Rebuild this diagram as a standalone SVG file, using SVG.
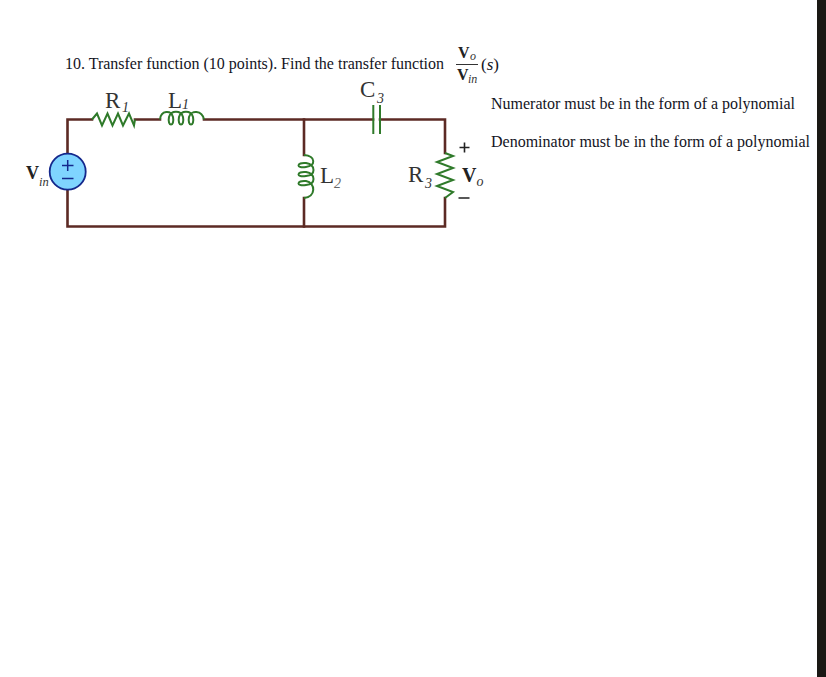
<svg xmlns="http://www.w3.org/2000/svg" width="826" height="677" viewBox="0 0 826 677">
<style>
text{font-family:"Liberation Serif","Times New Roman",serif;fill:#14141e}
.t{font-size:16px}
.l{font-size:23px;fill:#333}
.i{font-style:italic;font-size:14px;fill:#333}
.b{font-weight:bold;font-size:20px;fill:#222}
.f{font-weight:bold;font-size:16px;fill:#222}
.w{fill:none;stroke:#5c2a24;stroke-width:2.6;stroke-linecap:square}
.g{fill:none;stroke:#2f7a2a;stroke-width:2}
</style>
<rect width="826" height="677" fill="#fff"/>
<rect x="817" y="0" width="9" height="677" fill="#1a1814"/>
<g id="connectors">
<path class="w" d="M92 119.5H67.5V154M67.5 190V226.5H445V198M445 153V119.5H380M373 119.5H204M160 119.5H135"/>
<path class="w" d="M304 119.5V155M304 198V226.5"/>
</g>
<g id="R1"><path class="g" d="M92 119.5L97 113.500L102 125.500L107.500 113.500L112.500 125.500L118 113.500L123 125.500L129 113.500L134 125.500L135 119.5"/><text class="l" x="105" y="108">R</text><text class="i" x="122" y="112">1</text></g>
<g id="L1"><path class="g" d="M160 119.500C161 110 171 110 173 117C175 127 167 127 169 117C171 110 181 110 183 117C185 127 177 127 179 117C181 110 191 110 193 117C195 127 187 127 189 117C191 110 202 110 204 119.500"/><text class="l" x="168" y="108">L</text><text class="i" x="182" y="109">1</text></g>
<g id="C3"><path class="g" d="M373.300 105V134M380 105V134"/><text class="l" x="360" y="97">C</text><text class="i" x="377" y="103">3</text></g>
<g id="L2"><path class="g" d="M304 155C316 156 316 166 306 167C296 169 296 162 306 163C316 165 316 175 306 176C296 178 296 171 306 172C316 174 316 184 306 185C296 187 296 180 306 181C316 183 316 197 304 198"/><text class="l" x="320" y="183">L</text><text class="i" x="334" y="188" style="fill:#666">2</text></g>
<g id="R3"><path class="g" d="M445 153L453 156L437 162L453 168L437 174L453 180L437 186L453 192L445 198"/><text class="l" x="408" y="182">R</text><text class="i" x="425" y="188">3</text></g>
<g id="Vin">
<circle cx="67.700" cy="171.700" r="18" fill="#7fd4ff" stroke="#14288c" stroke-width="1.800"/>
<path d="M62 165.500H73.500M67.700 160V171M62 178.500H73.500" fill="none" stroke="#14288c" stroke-width="1.500"/>
<text class="b" x="26" y="179" style="font-size:18px">V</text><text class="i" x="39" y="186" style="font-size:12.500px">in</text>
</g>
<g id="Vo">
<path d="M459.500 147.500H469.500M464.500 142.500V152.500M458.500 198H469.500" fill="none" stroke="#222" stroke-width="1.600"/>
<text class="b" x="462" y="182">V</text><text class="i" x="476.500" y="186">o</text>
</g>
<g id="title">
<text class="t" x="65" y="68.500" textLength="379">10. Transfer function (10 points). Find the transfer function</text>
<text class="f" x="458" y="58">V</text><text class="i" x="470" y="60" style="font-size:12px">o</text>
<path d="M456 64.500H478" stroke="#333" stroke-width="1" fill="none"/>
<text class="f" x="457" y="80">V</text><text class="i" x="468" y="83" style="font-size:12px">in</text>
<text x="481" y="70" style="font-size:17px">(<tspan font-style="italic">s</tspan>)</text>
</g>
<g id="notes">
<text class="t" x="491" y="108.500" textLength="304">Numerator must be in the form of a polynomial</text>
<text class="t" x="491" y="146.500" textLength="319">Denominator must be in the form of a polynomial</text>
</g>
</svg>
